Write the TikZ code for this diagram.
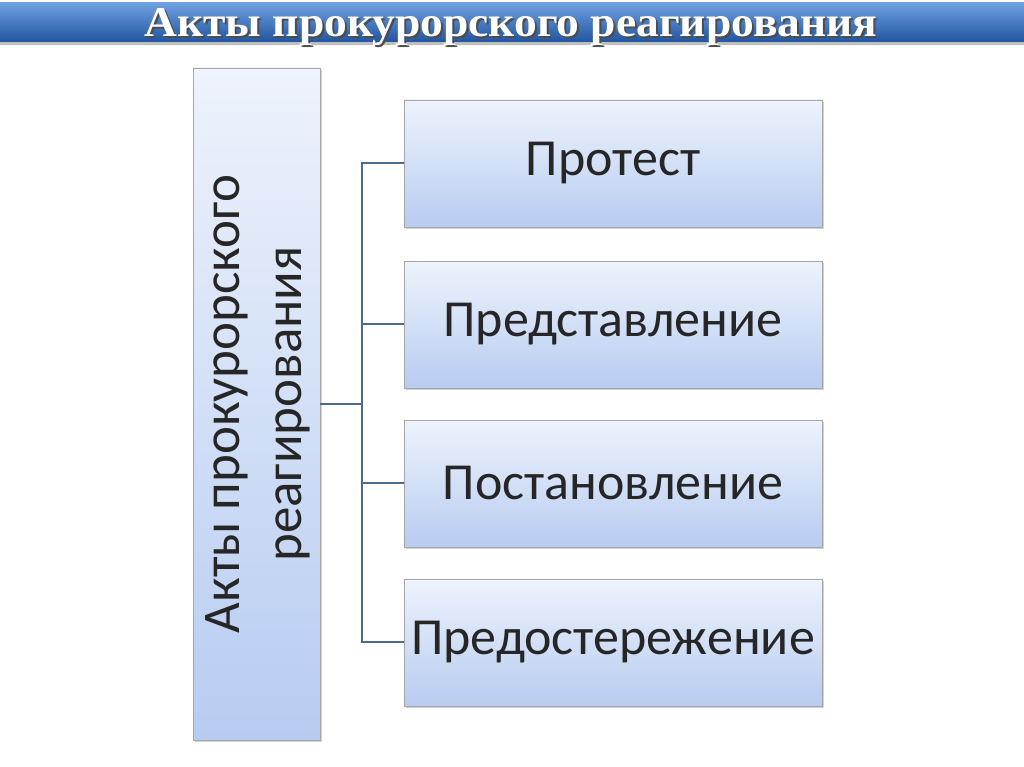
\documentclass[tikz,border=0pt]{standalone}
\usepackage{fontspec}
\setmainfont{Carlito}
\newfontfamily\titlefont{Liberation Serif}
\usetikzlibrary{shadows}
\definecolor{boxtop}{HTML}{EEF3FC}
\definecolor{boxbot}{HTML}{B7CCF1}
\definecolor{linec}{HTML}{4A6A8F}
\tikzset{
  cbox/.style={draw=black!35, line width=0.8pt, top color=boxtop, bottom color=boxbot, drop shadow={opacity=0.35, shadow xshift=2pt, shadow yshift=-2pt}, inner sep=0pt},
  conn/.style={draw=linec, line width=2pt},
  lbl/.style={font=\fontsize{52}{62}\selectfont, text=black!85}
}
\begin{document}
\begin{tikzpicture}[x=1pt,y=-1pt]
\useasboundingbox (0,0) rectangle (1024,767);
\fill[white] (0,0) rectangle (1024,767);
\shade[top color={rgb,255:red,110;green,160;blue,225}, bottom color={rgb,255:red,35;green,85;blue,160}] (0,3) rectangle (1024,42);
\fill[black!25] (0,42) rectangle (1024,45);
\node[text=black!70] at (513,29) {\resizebox{733pt}{28pt}{\titlefont\bfseries Акты прокурорского реагирования}};
\node[text=white] (title) at (511,27) {\resizebox{733pt}{28pt}{\titlefont\bfseries Акты прокурорского реагирования}};
\path[cbox] (193,68) rectangle (320,740);
\coordinate (main) at (320,404);
\node[lbl, font=\fontsize{53}{62}\selectfont, rotate=90, align=center] (mainlbl) at (258,404) {Акты прокурорского\\реагирования};
\foreach \y/\t/\n in {100/Протест/a,261/Представление/b,420/Постановление/c,579/Предостережение/d}{
  \path[cbox] (404,\y) rectangle (822,\y+127);
  \node[lbl] (\n) at (613,\y+63) {\t};
  \coordinate (\n w) at (404,\y+63);
}
\coordinate (tr) at (362,404);
\draw[conn] (main) -- (tr);
\draw[conn] (aw) -| (tr) |- (dw);
\draw[conn] (bw) -- (bw -| tr);
\draw[conn] (cw) -- (cw -| tr);
\end{tikzpicture}
\end{document}
